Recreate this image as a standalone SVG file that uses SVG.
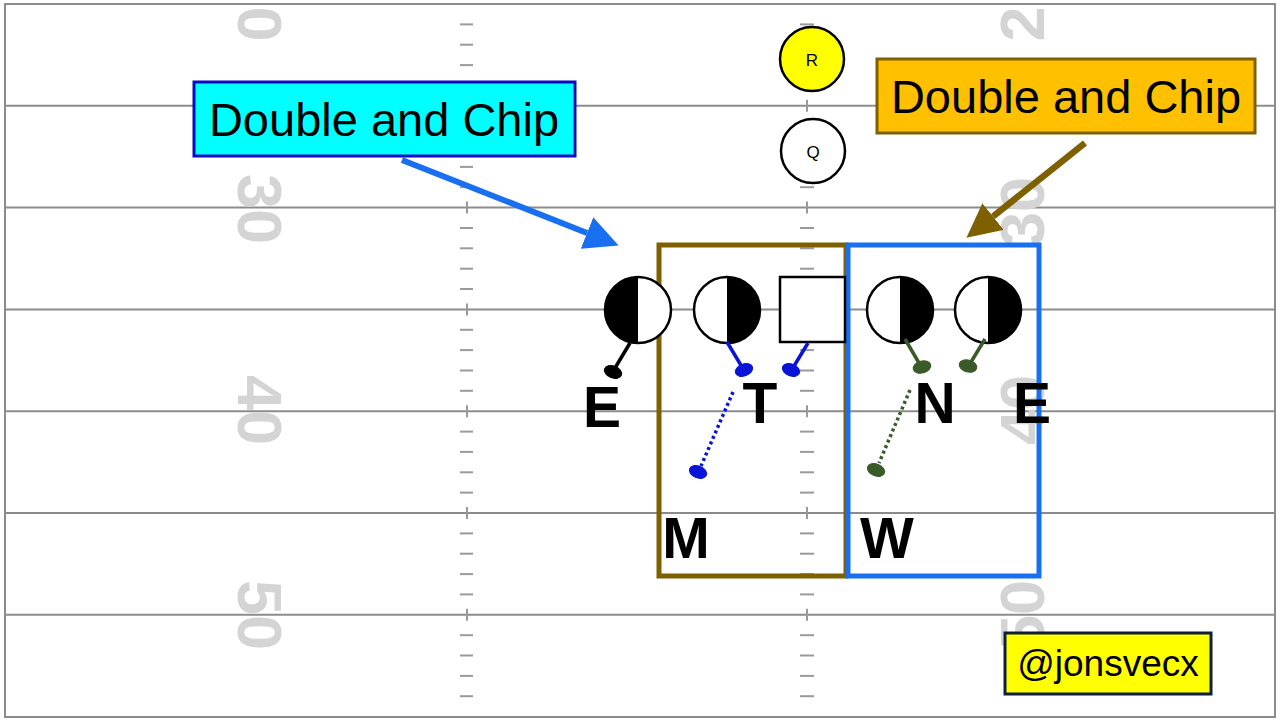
<svg xmlns="http://www.w3.org/2000/svg" width="1280" height="720" viewBox="0 0 1280 720">
  <style>
    .yl { stroke: #8c8c8c; stroke-width: 2; }
    .hash { stroke: #9a9a9a; stroke-width: 2; }
    .num { font-family: "Liberation Sans", Arial, sans-serif; font-weight: bold; font-size: 63px; fill: #d4d4d4; text-anchor: middle; dominant-baseline: central; }
    .plr { fill: #fff; stroke: #000; stroke-width: 2.5; }
    .lbl { font-family: "Liberation Sans", Arial, sans-serif; font-weight: bold; font-size: 57px; fill: #000; text-anchor: middle; }
    .call { font-family: "Liberation Sans", Arial, sans-serif; font-size: 47px; fill: #000; text-anchor: middle; }
    .small { font-family: "Liberation Sans", Arial, sans-serif; font-size: 17px; fill: #000; text-anchor: middle; dominant-baseline: central; }
    .blue { stroke: #0a14d8; fill: #0a14d8; }
    .green { stroke: #3a5a27; fill: #3a5a27; }
    .blk { stroke: #000; fill: #000; }
    .stem { stroke-width: 3.5; }
    .dot { stroke-width: 3.5; stroke-dasharray: 3 3; fill: none; }
  </style>
  <defs>
    <marker id="ahBlue" markerUnits="userSpaceOnUse" markerWidth="34" markerHeight="34" viewBox="0 0 34 34" refX="0" refY="17" orient="auto">
      <path d="M0,0 L34,17 L0,34 Z" fill="#1870f0"/>
    </marker>
    <marker id="ahBrown" markerUnits="userSpaceOnUse" markerWidth="34" markerHeight="34" viewBox="0 0 34 34" refX="0" refY="17" orient="auto">
      <path d="M0,0 L34,17 L0,34 Z" fill="#7f6000"/>
    </marker>
  </defs>

  <rect x="0" y="0" width="1280" height="720" fill="#fff"/>

  <g id="field">
    <rect x="5" y="4" width="1270" height="713" fill="none" class="yl"/>
    <line class="yl" x1="5" y1="105.8" x2="1275" y2="105.8"/>
    <line class="yl" x1="5" y1="207.6" x2="1275" y2="207.6"/>
    <line class="yl" x1="5" y1="309.4" x2="1275" y2="309.4"/>
    <line class="yl" x1="5" y1="411.2" x2="1275" y2="411.2"/>
    <line class="yl" x1="5" y1="513" x2="1275" y2="513"/>
    <line class="yl" x1="5" y1="614.8" x2="1275" y2="614.8"/>
    <g id="hash-left" class="hash">
      <line x1="460" y1="24.4" x2="473" y2="24.4"/><line x1="460" y1="44.7" x2="473" y2="44.7"/><line x1="460" y1="65.1" x2="473" y2="65.1"/><line x1="460" y1="85.4" x2="473" y2="85.4"/>
      <line x1="467" y1="99.8" x2="467" y2="111.8"/>
      <line x1="460" y1="126.2" x2="473" y2="126.2"/><line x1="460" y1="146.5" x2="473" y2="146.5"/><line x1="460" y1="166.9" x2="473" y2="166.9"/><line x1="460" y1="187.2" x2="473" y2="187.2"/>
      <line x1="467" y1="201.6" x2="467" y2="213.6"/>
      <line x1="460" y1="228" x2="473" y2="228"/><line x1="460" y1="248.3" x2="473" y2="248.3"/><line x1="460" y1="268.7" x2="473" y2="268.7"/><line x1="460" y1="289" x2="473" y2="289"/>
      <line x1="467" y1="303.4" x2="467" y2="315.4"/>
      <line x1="460" y1="329.8" x2="473" y2="329.8"/><line x1="460" y1="350.1" x2="473" y2="350.1"/><line x1="460" y1="370.5" x2="473" y2="370.5"/><line x1="460" y1="390.8" x2="473" y2="390.8"/>
      <line x1="467" y1="405.2" x2="467" y2="417.2"/>
      <line x1="460" y1="431.6" x2="473" y2="431.6"/><line x1="460" y1="451.9" x2="473" y2="451.9"/><line x1="460" y1="472.3" x2="473" y2="472.3"/><line x1="460" y1="492.6" x2="473" y2="492.6"/>
      <line x1="467" y1="507" x2="467" y2="519"/>
      <line x1="460" y1="533.4" x2="473" y2="533.4"/><line x1="460" y1="553.7" x2="473" y2="553.7"/><line x1="460" y1="574.1" x2="473" y2="574.1"/><line x1="460" y1="594.4" x2="473" y2="594.4"/>
      <line x1="467" y1="608.8" x2="467" y2="620.8"/>
      <line x1="460" y1="635.2" x2="473" y2="635.2"/><line x1="460" y1="655.5" x2="473" y2="655.5"/><line x1="460" y1="675.9" x2="473" y2="675.9"/><line x1="460" y1="696.2" x2="473" y2="696.2"/>
    </g>
    <g id="hash-right" class="hash">
      <line x1="800" y1="24.4" x2="814" y2="24.4"/><line x1="800" y1="44.7" x2="814" y2="44.7"/><line x1="800" y1="65.1" x2="814" y2="65.1"/><line x1="800" y1="85.4" x2="814" y2="85.4"/>
      <line x1="807" y1="99.8" x2="807" y2="111.8"/>
      <line x1="800" y1="126.2" x2="814" y2="126.2"/><line x1="800" y1="146.5" x2="814" y2="146.5"/><line x1="800" y1="166.9" x2="814" y2="166.9"/><line x1="800" y1="187.2" x2="814" y2="187.2"/>
      <line x1="807" y1="201.6" x2="807" y2="213.6"/>
      <line x1="800" y1="228" x2="814" y2="228"/><line x1="800" y1="248.3" x2="814" y2="248.3"/><line x1="800" y1="268.7" x2="814" y2="268.7"/><line x1="800" y1="289" x2="814" y2="289"/>
      <line x1="807" y1="303.4" x2="807" y2="315.4"/>
      <line x1="800" y1="329.8" x2="814" y2="329.8"/><line x1="800" y1="350.1" x2="814" y2="350.1"/><line x1="800" y1="370.5" x2="814" y2="370.5"/><line x1="800" y1="390.8" x2="814" y2="390.8"/>
      <line x1="807" y1="405.2" x2="807" y2="417.2"/>
      <line x1="800" y1="431.6" x2="814" y2="431.6"/><line x1="800" y1="451.9" x2="814" y2="451.9"/><line x1="800" y1="472.3" x2="814" y2="472.3"/><line x1="800" y1="492.6" x2="814" y2="492.6"/>
      <line x1="807" y1="507" x2="807" y2="519"/>
      <line x1="800" y1="533.4" x2="814" y2="533.4"/><line x1="800" y1="553.7" x2="814" y2="553.7"/><line x1="800" y1="574.1" x2="814" y2="574.1"/><line x1="800" y1="594.4" x2="814" y2="594.4"/>
      <line x1="807" y1="608.8" x2="807" y2="620.8"/>
      <line x1="800" y1="635.2" x2="814" y2="635.2"/><line x1="800" y1="655.5" x2="814" y2="655.5"/><line x1="800" y1="675.9" x2="814" y2="675.9"/><line x1="800" y1="696.2" x2="814" y2="696.2"/>
    </g>
    <g id="numbers">
      <text class="num" transform="translate(260,24) rotate(90)">0</text>
      <text class="num" transform="translate(260,209) rotate(90)">30</text>
      <text class="num" transform="translate(260,410) rotate(90)">40</text>
      <text class="num" transform="translate(260,615) rotate(90)">50</text>
      <text class="num" transform="translate(1022,24) rotate(-90)">2</text>
      <text class="num" transform="translate(1022,212) rotate(-90)">30</text>
      <text class="num" transform="translate(1022,410) rotate(-90)">40</text>
      <text class="num" transform="translate(1022,615) rotate(-90)">50</text>
    </g>
  </g>

  <g id="connectors">
    <line x1="402" y1="160" x2="587" y2="233" stroke="#1870f0" stroke-width="6" marker-end="url(#ahBlue)"/>
    <line x1="1085" y1="143" x2="993" y2="216.5" stroke="#7f6000" stroke-width="6.5" marker-end="url(#ahBrown)"/>
  </g>

  <g id="box-M">
    <rect x="659" y="245" width="187" height="331" fill="none" stroke="#7f6000" stroke-width="5"/>
    <text class="lbl" x="686" y="558">M</text>
  </g>
  <g id="box-W">
    <rect x="848" y="245" width="191" height="331" fill="none" stroke="#1870f0" stroke-width="5"/>
    <text class="lbl" x="887" y="558">W</text>
  </g>

  <g id="player-R">
    <circle cx="812" cy="59" r="32" fill="#ffff00" stroke="#000" stroke-width="2.5"/>
    <text class="small" x="812" y="60">R</text>
  </g>
  <g id="player-Q">
    <circle cx="813" cy="151" r="32" fill="#fff" stroke="#000" stroke-width="2.5"/>
    <text class="small" x="813" y="152">Q</text>
  </g>

  <g id="player-E-left">
    <circle class="plr" cx="638" cy="310" r="33"/>
    <path d="M638,277 A33,33 0 0,0 638,343 Z" fill="#000"/>
    <line class="blk stem" x1="630" y1="343" x2="615" y2="368"/>
    <ellipse class="blk" cx="613" cy="372" rx="9" ry="6" transform="rotate(20 613 372)"/>
    <text class="lbl" x="602" y="427">E</text>
  </g>
  <g id="player-T">
    <circle class="plr" cx="727" cy="310" r="33"/>
    <path d="M727,277 A33,33 0 0,1 727,343 Z" fill="#000"/>
    <line class="blue stem" x1="727" y1="342" x2="742" y2="367"/>
    <ellipse class="blue" cx="744" cy="370" rx="9" ry="6" transform="rotate(-20 744 370)"/>
    <line class="blue dot" x1="733" y1="392" x2="701" y2="466"/>
    <ellipse class="blue" cx="698" cy="472" rx="9" ry="6" transform="rotate(20 698 472)"/>
    <text class="lbl" x="760" y="423">T</text>
  </g>
  <g id="center">
    <rect x="780" y="277" width="65" height="65" fill="#fff" stroke="#000" stroke-width="2.5"/>
    <line class="blue stem" x1="808" y1="343" x2="794" y2="366"/>
    <ellipse class="blue" cx="791" cy="370" rx="9" ry="6" transform="rotate(20 791 370)"/>
  </g>
  <g id="player-N">
    <circle class="plr" cx="900" cy="310" r="33"/>
    <path d="M900,277 A33,33 0 0,1 900,343 Z" fill="#000"/>
    <line class="green stem" x1="905" y1="339" x2="919" y2="363"/>
    <ellipse class="green" cx="922" cy="367" rx="9" ry="6" transform="rotate(-15 922 367)"/>
    <line class="green dot" x1="910" y1="390" x2="879" y2="463"/>
    <ellipse class="green" cx="876" cy="470" rx="9" ry="6" transform="rotate(20 876 470)"/>
    <text class="lbl" x="935" y="423">N</text>
  </g>
  <g id="player-E-right">
    <circle class="plr" cx="988" cy="310" r="33"/>
    <path d="M988,277 A33,33 0 0,1 988,343 Z" fill="#000"/>
    <line class="green stem" x1="985" y1="339" x2="971" y2="362"/>
    <ellipse class="green" cx="968" cy="366" rx="9" ry="6" transform="rotate(15 968 366)"/>
    <text class="lbl" x="1032" y="423">E</text>
  </g>

  <g id="callout-left">
    <rect x="194" y="82" width="381" height="74" fill="#00ffff" stroke="#0a0ac8" stroke-width="3"/>
    <text class="call" x="384" y="136">Double and Chip</text>
  </g>
  <g id="callout-right">
    <rect x="877" y="59" width="378" height="74" fill="#ffc000" stroke="#7f6000" stroke-width="3"/>
    <text class="call" x="1066" y="113">Double and Chip</text>
  </g>
  <g id="credit">
    <rect x="1005" y="633" width="206" height="61" fill="#ffff00" stroke="#0d1f3a" stroke-width="3"/>
    <text class="call" style="font-size:37px" x="1108" y="676">@jonsvecx</text>
  </g>
</svg>
